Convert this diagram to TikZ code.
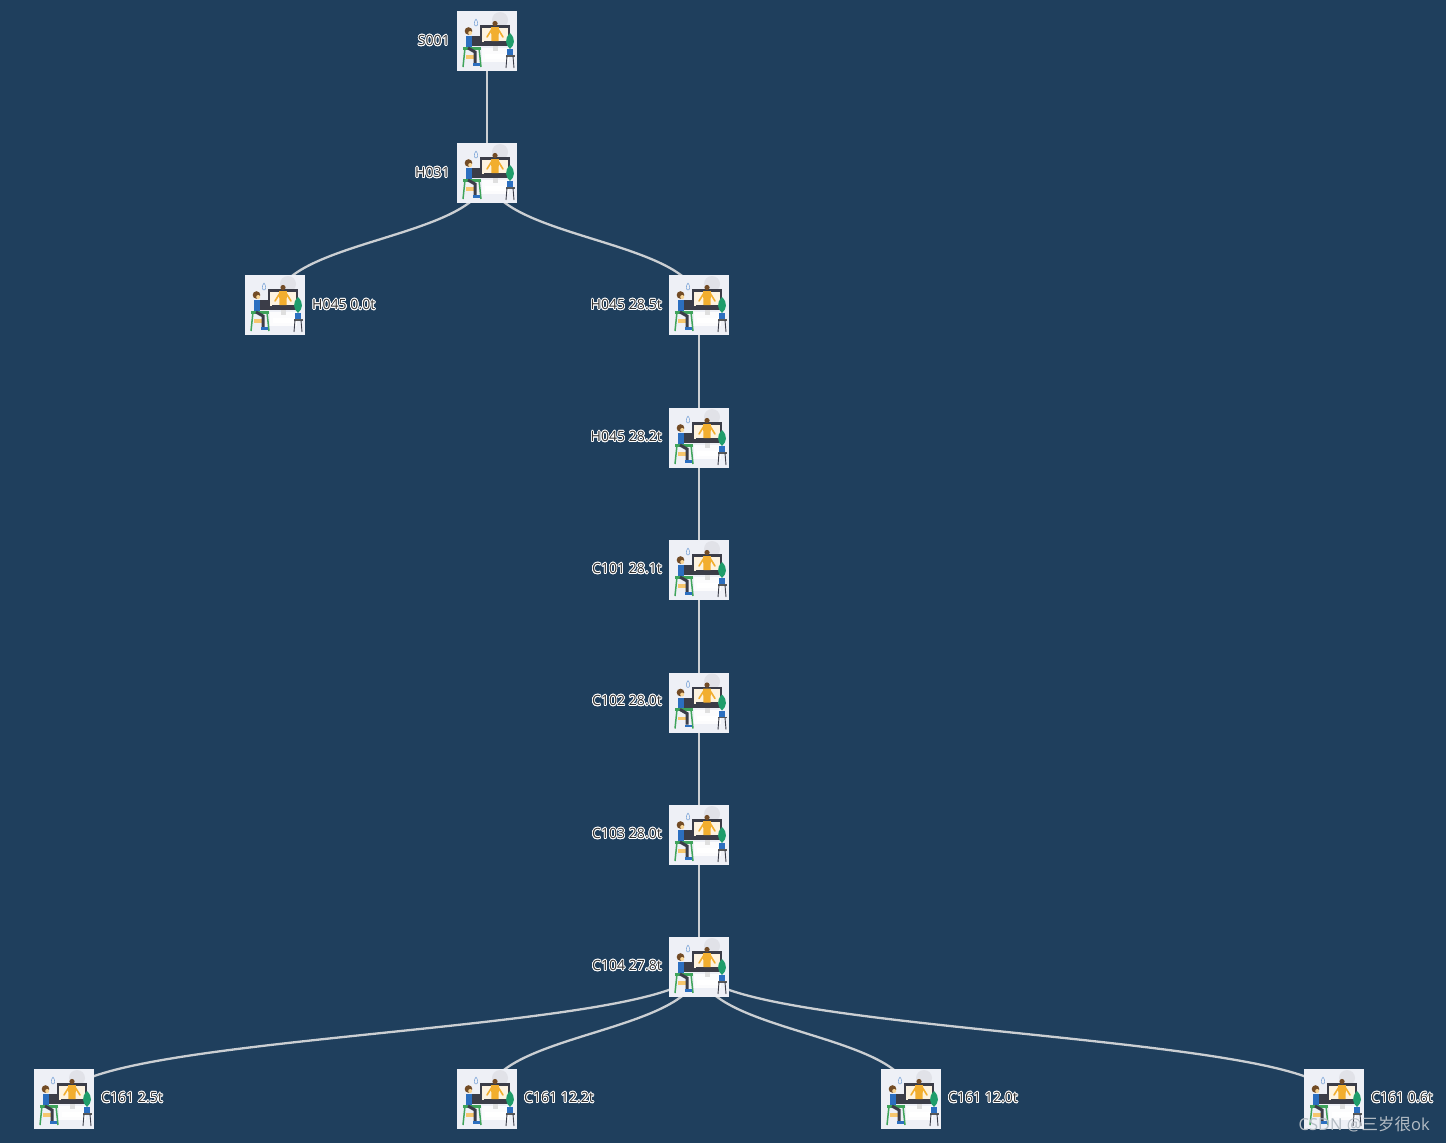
\documentclass[tikz,border=0pt]{standalone}
\usepackage{fontspec}
\setmainfont{Open Sans}
\newfontfamily\cjkfont{Noto Sans CJK SC}
\usepackage[copies]{contour}
\contournumber{16}
\contourlength{0.8pt}
\usetikzlibrary{backgrounds}
\definecolor{pagebg}{HTML}{1F3F5D}
\definecolor{iconbg}{HTML}{EEF0F6}
\definecolor{edgecol}{HTML}{CBCFD3}
\definecolor{labelcol}{HTML}{333333}
\definecolor{orangeb}{HTML}{F2AE2E}
\definecolor{greenp}{HTML}{1F9D6B}
\definecolor{bluep}{HTML}{2C6FC0}
\definecolor{darkm}{HTML}{3B3D48}
\definecolor{limeg}{HTML}{3FA45B}
\definecolor{markcol}{HTML}{B4BCC4}
\newcommand{\lab}[1]{\contour{white}{\textcolor{labelcol}{#1}}}
\tikzset{
  x=1pt,y=-1pt,
  iconbox/.style={draw=none,fill=iconbg,minimum size=60pt,inner sep=0pt,outer sep=0pt},
  edgeline/.style={draw=edgecol,line width=2.3pt},
  nodelabel/.style={font=\fontsize{14.1}{16}\selectfont,inner sep=0pt,text=labelcol},
  mark text/.style={font=\fontsize{16.5}{18}\selectfont,inner sep=0pt,text=markcol},
  pics/usericon/.style={code={
    \begin{scope}[shift={(-30,-30)}]
      \fill[gray!12!iconbg] (43,9) circle (8);
      \draw[bluep!60,line width=.6pt] (19,8) .. controls (16.5,11) and (17,15) .. (19,15) .. controls (21,15) and (21.5,11) .. (19,8);
      \fill[white!80!iconbg] (25,37) rectangle (52,51);
      \fill[gray!25] (36,34) rectangle (41,40);
      \fill[white] (28,43) rectangle (50,48);
      \fill[darkm] (23,14) rectangle (53,35);
      \fill[white!85!orangeb] (25,16.5) rectangle (51,31);
      \fill[darkm] (27,29.5) rectangle (49,31);
      \fill[orangeb] (34,16) -- (42,16) -- (41.5,30) -- (34.5,30) -- cycle;
      \draw[orangeb,line width=1.6pt,line cap=round] (35,18) -- (30,26) (41,18) -- (46,26);
      \fill[brown!60!black] (38,12.5) circle (2.6);
      \fill[brown!60!black] (11.5,20) circle (3.8);
      \fill[orangeb!50!white] (13.2,22) circle (2);
      \fill[bluep] (8.5,25) rectangle (15,36);
      \fill[darkm] (15,25) rectangle (24,35);
      \fill[limeg] (5.5,35.5) rectangle (24,38.5);
      \draw[limeg,line width=1.5pt] (8,37) -- (6,56) (22,37) -- (24,56);
      \fill[orangeb!70!white] (9,44) rectangle (17,47.5);
      \draw[darkm,line width=3pt] (11,37) -- (18,41) -- (18,52);
      \fill[bluep] (16,52) rectangle (23,54.5);
      \fill[greenp] (53,22) .. controls (47,28) and (48.5,34) .. (53,38) .. controls (57.5,34) and (59,28) .. (53,22);
      \fill[bluep] (50,38) rectangle (56,44);
      \fill[gray!70!black] (48.5,44) rectangle (57.5,45.5);
      \draw[darkm,line width=.9pt] (50,45) -- (49,57) (56,45) -- (57,57);
    \end{scope}
  }}
}
\pgfdeclarelayer{pagelayer}
\pgfdeclarelayer{edgelayer}
\pgfsetlayers{pagelayer,edgelayer,main}
\begin{document}
\begin{tikzpicture}
\useasboundingbox (0,0) rectangle (1446,1143);
\begin{pgfonlayer}{pagelayer}
  \fill[pagebg] (0,0) rectangle (1446,1143);
\end{pgfonlayer}
\foreach \nm/\px/\py in {s/487/41,h/487/173,a/275/305,b/699/305,c/699/438,d/699/570,e/699/702.5,f/699/835,g/699/967,p/64/1099,q/487/1099,r/911/1099,u/1334/1099}{
  \node[iconbox] (\nm) at (\px,\py) {};
  \pic at (\nm) {usericon};
}
\node[nodelabel,anchor=east] (ls) at (450,41) {\lab{S001}};
\node[nodelabel,anchor=east] (lh) at (450,173) {\lab{H031}};
\node[nodelabel,anchor=west] (la) at (312,305) {\lab{H045 0.0t}};
\node[nodelabel,anchor=east] (lb) at (662,305) {\lab{H045 28.5t}};
\node[nodelabel,anchor=east] (lc) at (662,437) {\lab{H045 28.2t}};
\node[nodelabel,anchor=east] (ld) at (662,569) {\lab{C101 28.1t}};
\node[nodelabel,anchor=east] (le) at (662,701) {\lab{C102 28.0t}};
\node[nodelabel,anchor=east] (lf) at (662,834) {\lab{C103 28.0t}};
\node[nodelabel,anchor=east] (lg) at (662,966) {\lab{C104 27.8t}};
\node[nodelabel,anchor=west] (lp) at (101,1098) {\lab{C161 2.5t}};
\node[nodelabel,anchor=west] (lq) at (524,1098) {\lab{C161 12.2t}};
\node[nodelabel,anchor=west] (lr) at (948,1098) {\lab{C161 12.0t}};
\node[nodelabel,anchor=west] (lu) at (1371,1098) {\lab{C161 0.6t}};
\node[mark text,anchor=east] (wm) at (1430,1124) {CSDN @{\cjkfont 三岁很}ok};
\begin{pgfonlayer}{edgelayer}
  \foreach \pa/\ch in {s/h,h/a,h/b,b/c,c/d,d/e,e/f,f/g,g/p,g/q,g/r,g/u}{
    \draw[edgeline] (\pa.center) .. controls +(0,66) and +(0,-66) .. (\ch.center);
  }
\end{pgfonlayer}
\end{tikzpicture}
\end{document}
